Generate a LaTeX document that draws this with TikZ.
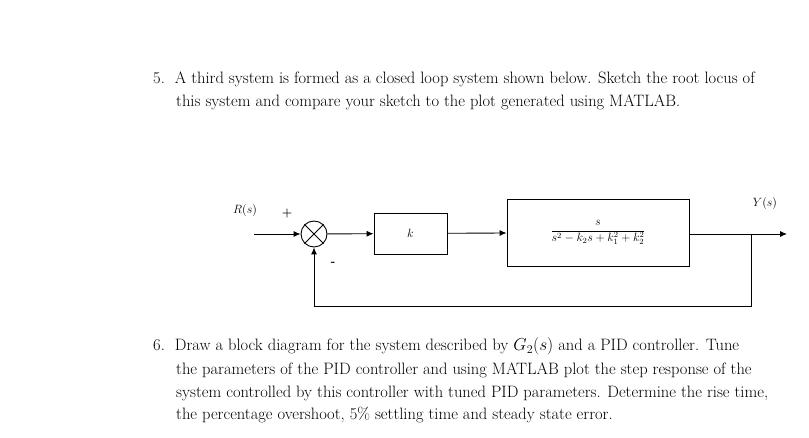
\documentclass[tikz,border=0pt]{standalone}
\usetikzlibrary{arrows.meta}
\begin{document}
\begin{tikzpicture}[x=1pt,y=-1pt,
  txt/.style={anchor=base west,inner sep=0pt,font=\fontsize{16.5}{20}\selectfont},
  blk/.style={draw,line width=0.9pt,minimum height=#1,inner sep=0pt},
  con/.style={line width=0.9pt},
  arr/.style={con,-{Latex[length=7pt,width=6pt]}},
  lab/.style={inner sep=0pt,font=\fontsize{12}{14}\selectfont}]
\useasboundingbox (0,0) rectangle (809,438);
\clip (0,0) rectangle (809,438);
\node[txt] (q5a) at (153,84) {5.\ \ A third system is formed as a closed loop system shown below. Sketch the root locus of};
\node[txt] (q5b) at (176,107) {this system and compare your sketch to the plot generated using MATLAB.};
\node[txt] (q6a) at (153,351) {6.\ \ Draw a block diagram for the system described by $G_2(s)$ and a PID controller. Tune};
\node[txt] (q6b) at (176,374) {the parameters of the PID controller and using MATLAB plot the step response of the};
\node[txt] (q6c) at (176,397) {system controlled by this controller with tuned PID parameters. Determine the rise time,};
\node[txt] (q6d) at (176,420) {the percentage overshoot, 5\% settling time and steady state error.};
% diagram
\coordinate (in) at (254,234);
\node[draw,circle,line width=0.9pt,minimum size=26pt,inner sep=0pt] (sum) at (314,234) {};
\draw[line width=0.9pt] (sum.north west)--(sum.south east) (sum.north east)--(sum.south west);
\node[blk=41pt,minimum width=73pt] (k) at (410.5,233.5) {\fontsize{12}{14}\selectfont$k$};
\node[blk=67pt,minimum width=182pt] (g) at (598,232.5) {\fontsize{12}{14}\selectfont$\displaystyle\frac{s}{s^2-k_2s+k_1^2+k_2^2}$};
\coordinate (br) at (751,234);
\coordinate (out) at (787,234);
\coordinate (fb) at (751,306);
\coordinate (fb2) at (314,306);
\draw[arr] (in)--(sum);
\draw[arr] (sum)--(k);
\draw[arr] (k)--(g);
\draw[arr] (g.east |- br)--(out);
\draw[con] (br)--(fb)--(fb2);
\draw[arr] (fb2)--(sum);
\node[lab] (R) at (245,211) {$R(s)$};
\node[lab] (Y) at (765,204) {$Y(s)$};
\node[lab] (plus) at (287,214) {\bfseries +};
\node[lab] (minus) at (333,264) {\bfseries -};
\end{tikzpicture}
\end{document}
